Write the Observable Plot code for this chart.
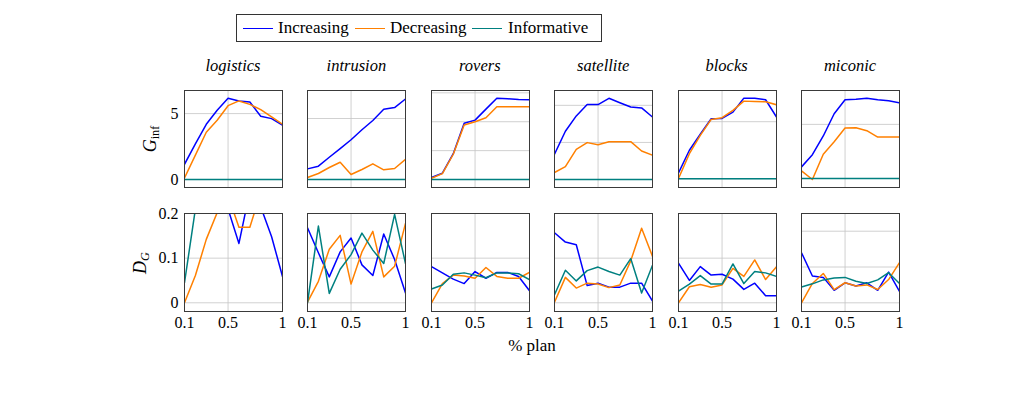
<!DOCTYPE html>
<html><head><meta charset="utf-8">
<script src="https://cdn.jsdelivr.net/npm/d3@7"></script>
<script src="https://cdn.jsdelivr.net/npm/@observablehq/plot@0.6"></script>
<style>
body{margin:0;background:#fff;}
#root{position:relative;width:1026px;height:398px;font-family:"Liberation Serif",serif;color:#000;overflow:hidden;}
.abs{position:absolute;white-space:nowrap;}
.title{font-style:italic;font-size:16.5px;line-height:16px;transform:translateX(-50%);}
.lg-line{position:absolute;height:0;width:30px;border-top:1.6px solid;}
.lg-text{position:absolute;font-size:17px;line-height:16px;}
sub{font-size:0.68em;vertical-align:-0.3em;}
</style></head><body><div id="root"></div>
<script>
const xValues = [0.1, 0.2, 0.3, 0.4, 0.5, 0.6, 0.7, 0.8, 0.9, 1.0];
const domains = ["logistics", "intrusion", "rovers", "satellite", "blocks", "miconic"];
const seriesNames = ["Increasing", "Decreasing", "Informative"];
const xTicks = [0.1, 0.5, 1];
const ginfTicks = [[0, 5], [0, 5], [0, 2, 4, 6], [0, 2, 4], [0, 5], [0, 5]];
const dgTicks = [0, 0.1, 0.2];

// G_inf, one list per domain (same order as domains)
const ginfIncreasing = [
  [1.16, 2.7, 4.19, 5.25, 6.16, 5.96, 5.88, 4.8, 4.62, 4.12],
  [0.87, 1.09, 1.82, 2.53, 3.26, 4.08, 4.84, 5.76, 5.9, 6.6],
  [0.14, 0.44, 1.79, 3.9, 4.11, 4.87, 5.63, 5.59, 5.54, 5.52],
  [1.36, 2.6, 3.43, 4.05, 4.04, 4.38, 4.14, 3.91, 3.86, 3.37],
  [0.52, 2.5, 3.9, 5.26, 5.29, 5.84, 7.06, 7.06, 6.92, 5.41],
  [1.07, 2.2, 3.93, 5.98, 7.27, 7.33, 7.42, 7.27, 7.18, 7.0]
];
const ginfDecreasing = [
  [0.13, 1.85, 3.59, 4.5, 5.6, 5.96, 5.7, 5.3, 4.75, 4.2],
  [0.16, 0.49, 0.98, 1.41, 0.41, 0.82, 1.28, 0.79, 0.9, 1.66],
  [0.09, 0.41, 1.75, 3.77, 4.0, 4.28, 5.03, 5.03, 5.03, 5.03],
  [0.38, 0.7, 1.63, 1.99, 1.87, 2.04, 2.04, 2.04, 1.54, 1.31],
  [0.03, 2.2, 3.8, 5.2, 5.35, 5.99, 6.8, 6.77, 6.74, 6.48],
  [0.7, -0.09, 2.24, 3.4, 4.66, 4.69, 4.42, 3.83, 3.83, 3.83]
];
const ginfInformative = [
  [0, 0, 0, 0, 0, 0, 0, 0, 0, 0],
  [0, 0, 0, 0, 0, 0, 0, 0, 0, 0],
  [0, 0, 0, 0, 0, 0, 0, 0, 0, 0],
  [0, 0, 0, 0, 0, 0, 0, 0, 0, 0],
  [0, 0, 0, 0, 0, 0, 0, 0, 0, 0],
  [0, 0, 0, 0, 0, 0, 0, 0, 0, 0]
];
// D_G
const dgIncreasing = [
  [0.30, 0.28, 0.26, 0.24, 0.21, 0.133, 0.25, 0.215, 0.148, 0.059],
  [0.168, 0.112, 0.058, 0.114, 0.145, 0.085, 0.061, 0.154, 0.097, 0.022],
  [0.081, 0.067, 0.053, 0.043, 0.070, 0.055, 0.068, 0.068, 0.059, 0.027],
  [0.157, 0.136, 0.13, 0.0385, 0.044, 0.035, 0.035, 0.044, 0.044, 0.004],
  [0.089, 0.05, 0.081, 0.062, 0.064, 0.053, 0.03, 0.044, 0.016, 0.016],
  [0.14, 0.075, 0.071, 0.035, 0.056, 0.047, 0.056, 0.035, 0.086, 0.032]
];
const dgDecreasing = [
  [0.0, 0.061, 0.142, 0.202, 0.24, 0.169, 0.169, 0.247, 0.26, 0.25],
  [0.0015, 0.048, 0.12, 0.151, 0.042, 0.114, 0.16, 0.058, 0.082, 0.178],
  [0, 0.043, 0.062, 0.06, 0.055, 0.079, 0.059, 0.055, 0.055, 0.068],
  [0.0015, 0.057, 0.033, 0.044, 0.042, 0.034, 0.04, 0.094, 0.167, 0.104],
  [0, 0.036, 0.041, 0.035, 0.04, 0.077, 0.059, 0.096, 0.052, 0.081],
  [0, 0.054, 0.082, 0.037, 0.056, 0.047, 0.05, 0.037, 0.065, 0.112]
];
const dgInformative = [
  [0.045, 0.21, 0.26, 0.27, 0.28, 0.27, 0.26, 0.27, 0.28, 0.27],
  [0, 0.172, 0.021, 0.075, 0.108, 0.156, 0.118, 0.088, 0.198, 0.088],
  [0.031, 0.04, 0.064, 0.067, 0.062, 0.056, 0.067, 0.067, 0.065, 0.052],
  [0.018, 0.073, 0.049, 0.072, 0.08, 0.07, 0.062, 0.099, 0.022, 0.084],
  [0.026, 0.042, 0.061, 0.042, 0.042, 0.087, 0.043, 0.07, 0.067, 0.059],
  [0.044, 0.053, 0.064, 0.069, 0.071, 0.06, 0.054, 0.064, 0.084, 0.054]
];

const colors = ["#0000ff", "#ff8000", "#008080"];
const ginfDomains = [[-0.6, 6.75], [-0.66, 7.3], [-0.55, 6.16], [-0.43, 4.8], [-0.76, 7.73], [-0.83, 8.13]];

const root = document.getElementById("root");
const ML = 50, MR = 10, MT = 5, MB = 30, FW = 98;
const frameLeft = i => 184 + i * 123.4;
const rowTop = [90, 213], rowH = [97, 98];

function makePanel(i, row) {
  const sets = row === 0 ? [ginfIncreasing, ginfDecreasing, ginfInformative]
                         : [dgIncreasing, dgDecreasing, dgInformative];
  const data = [];
  sets.forEach((s, k) => s[i].forEach((v, j) => data.push({x: xValues[j], y: v, series: seriesNames[k]})));
  const yDomain = row === 0 ? ginfDomains[i] : (i === 5 ? [-0.0243, 0.2495] : [-0.0195, 0.2]);
  const yTicks = row === 0 ? ginfTicks[i] : dgTicks;
  const marks = [
    Plot.gridX(xTicks, {stroke: "#c4c4c4", strokeOpacity: 1, strokeWidth: 0.8}),
    Plot.gridY(yTicks, {stroke: "#c4c4c4", strokeOpacity: 1, strokeWidth: 0.8}),
    Plot.line(data, {x: "x", y: "y", z: "series", stroke: "series", strokeWidth: 1.5, clip: true}),
    Plot.frame({stroke: "#3a3a3a", strokeWidth: 1})
  ];
  const hasY = i === 0, hasX = row === 1;
  if (hasY) marks.push(Plot.axisY(yTicks, {tickSize: 0, tickPadding: 6, fontSize: 16, tickFormat: d => String(d), label: null}));
  if (hasX) marks.push(Plot.axisX(xTicks, {tickSize: 0, tickPadding: 5, fontSize: 16, tickFormat: d => String(d), label: null}));
  const svg = Plot.plot({
    width: FW + ML + MR, height: rowH[row] + MT + MB,
    marginLeft: ML, marginRight: MR, marginTop: MT, marginBottom: MB,
    style: {background: "none", overflow: "visible", fontFamily: "Liberation Serif, serif", fontSize: "16px", color: "#000"},
    x: hasX ? {domain: [0.1, 1]} : {domain: [0.1, 1], axis: null},
    y: hasY ? {domain: yDomain} : {domain: yDomain, axis: null},
    color: {domain: seriesNames, range: colors},
    marks
  });
  svg.style.position = "absolute";
  svg.style.left = (frameLeft(i) - ML) + "px";
  svg.style.top = (rowTop[row] - MT) + "px";
  root.appendChild(svg);
}

domains.forEach((d, i) => {
  makePanel(i, 0);
  makePanel(i, 1);
  const t = document.createElement("div");
  t.className = "abs title";
  t.style.left = (frameLeft(i) + FW / 2) + "px";
  t.style.top = "58px";
  t.textContent = d;
  root.appendChild(t);
});

// legend
const lg = document.createElement("div");
lg.className = "abs";
Object.assign(lg.style, {left: "236px", top: "14px", width: "364px", height: "26px", border: "1px solid #333"});
root.appendChild(lg);
const lgPos = [[243, 278], [355, 390], [472, 508]];
seriesNames.forEach((s, k) => {
  const l = document.createElement("div");
  l.className = "lg-line";
  Object.assign(l.style, {left: lgPos[k][0] + "px", top: "28px", borderTopColor: colors[k]});
  root.appendChild(l);
  const t = document.createElement("div");
  t.className = "abs lg-text";
  Object.assign(t.style, {left: lgPos[k][1] + "px", top: "20px"});
  t.textContent = s;
  root.appendChild(t);
});

// axis titles
function label(html, x, y, rot, size) {
  const d = document.createElement("div");
  d.className = "abs";
  d.innerHTML = html;
  Object.assign(d.style, {left: x + "px", top: y + "px", fontSize: size + "px", lineHeight: "1",
    transform: "translate(-50%,-50%)" + (rot ? " rotate(-90deg)" : "")});
  root.appendChild(d);
}
label("<i>G</i><sub>inf</sub>", 151, 139, true, 18);
label("<i>D</i><sub><i>G</i></sub>", 141, 263, true, 18);
label("% plan", 532, 345, false, 17);
</script>
</body></html>
